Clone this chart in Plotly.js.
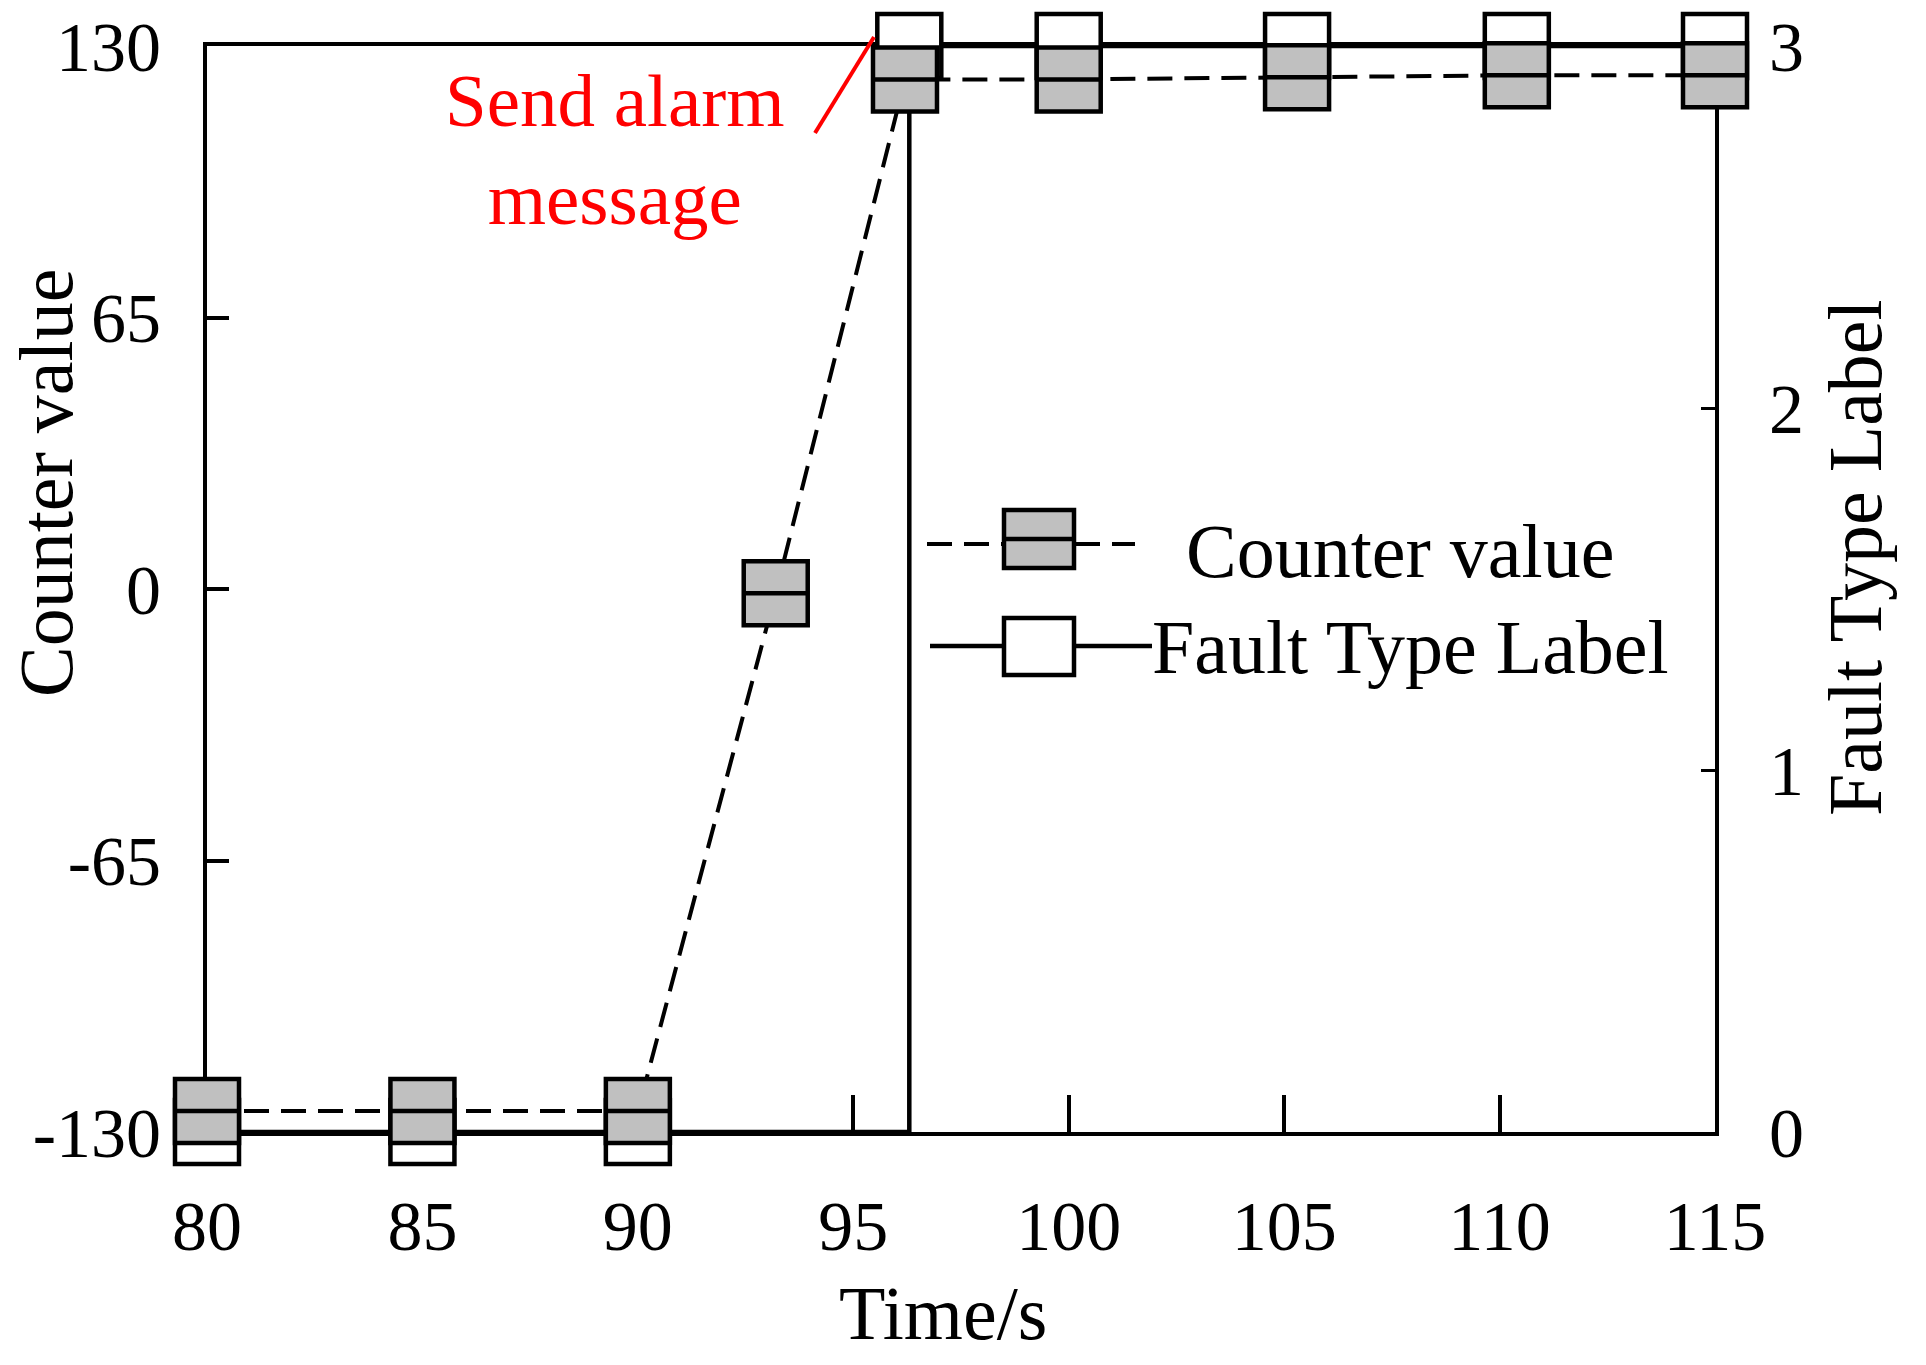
<!DOCTYPE html>
<html>
<head>
<meta charset="utf-8">
<script src="https://cdn.plot.ly/plotly-3.0.1.min.js"></script>
<style>html,body{margin:0;padding:0;background:#fff;}</style>
</head>
<body>
<div id="chart" style="width:1926px;height:1365px;"></div>
<script>
// ---- data ----
const counterTime  = [80, 85, 90, 93.2, 96.2, 100, 105.3, 110.4, 115];
const counterValue = [-125, -125, -125, -1, 122, 122, 122.5, 123, 123];
const faultTime    = [80, 85, 90, 96.3, 100, 105.3, 110.4, 115];
const faultLabel   = [0, 0, 0, 3, 3, 3, 3, 3];
const xTicks       = [80, 85, 90, 95, 100, 105, 110, 115];
const counterTicks = [-130, -65, 0, 65, 130];
const faultTicks   = [0, 1, 2, 3];
const seriesNames  = ['Counter value', 'Fault Type Label'];

const FONT = 'Liberation Serif, Times New Roman, serif';
const GRAY = '#c0c0c0';
const DASH = '25px,12px';

const traces = [
  { // fault type label (main y axis, drawn under)
    x: faultTime, y: faultLabel, yaxis: 'y', name: seriesNames[1],
    mode: 'lines+markers', cliponaxis: false,
    line: {color: '#000', width: 4.5, shape: 'hv'},
    marker: {symbol: 'square', size: 64, color: '#fff', line: {color: '#000', width: 4.5}},
    hoverinfo: 'x+y'
  },
  { // counter value (overlaying axis, drawn above)
    x: counterTime, y: counterValue, yaxis: 'y2', name: seriesNames[0],
    mode: 'lines+markers', cliponaxis: false,
    line: {color: '#000', width: 4, dash: DASH},
    marker: {symbol: 'square', size: 64, color: GRAY, line: {color: '#000', width: 4.5}},
    hoverinfo: 'x+y'
  },
  { // middle bar of the counter symbol
    x: counterTime, y: counterValue, yaxis: 'y2', name: seriesNames[0],
    mode: 'markers', cliponaxis: false, hoverinfo: 'skip',
    marker: {symbol: 'line-ew', size: 46, color: '#000', line: {color: '#000', width: 4.5}}
  }
];

// pixel -> paper helpers for decorations (plot area: x 207..1715, y 46..1132)
const L = 207, R = 1715, T = 46, B = 1132;
const px = v => (v - L) / (R - L);
const py = v => (B - v) / (B - T);

const shapes = [
  // "Send alarm message" pointer
  {type: 'line', xref: 'paper', yref: 'paper', x0: px(815), y0: py(133), x1: px(874), y1: py(37),
   line: {color: '#ff0000', width: 4}},
  // legend row 1 (Counter value)
  {type: 'line', xref: 'paper', yref: 'paper', x0: px(927), x1: px(1135), y0: py(544), y1: py(544),
   line: {color: '#000', width: 4, dash: DASH}},
  {type: 'rect', xref: 'paper', yref: 'paper', x0: px(1004), x1: px(1074), y0: py(510), y1: py(568),
   fillcolor: GRAY, line: {color: '#000', width: 4.5}},
  {type: 'line', xref: 'paper', yref: 'paper', x0: px(1004), x1: px(1074), y0: py(539), y1: py(539),
   line: {color: '#000', width: 4.5}},
  // legend row 2 (Fault Type Label)
  {type: 'line', xref: 'paper', yref: 'paper', x0: px(930), x1: px(1152), y0: py(646), y1: py(646),
   line: {color: '#000', width: 4.5}},
  {type: 'rect', xref: 'paper', yref: 'paper', x0: px(1004), x1: px(1074), y0: py(618), y1: py(675),
   fillcolor: '#fff', line: {color: '#000', width: 4.5}}
];

const annotations = [
  {xref: 'paper', yref: 'paper', x: px(614), y: py(150), text: 'Send alarm<br>message',
   showarrow: false, xanchor: 'center', yanchor: 'middle', align: 'center',
   font: {family: FONT, size: 75, color: '#ff0000'}},
  {xref: 'paper', yref: 'paper', x: px(1184), y: py(551), text: seriesNames[0],
   showarrow: false, xanchor: 'left', yanchor: 'middle',
   font: {family: FONT, size: 76, color: '#000'}},
  {xref: 'paper', yref: 'paper', x: px(1150), y: py(647), text: seriesNames[1],
   showarrow: false, xanchor: 'left', yanchor: 'middle',
   font: {family: FONT, size: 76, color: '#000'}},
  // axis titles
  {xref: 'paper', yref: 'paper', x: px(46), y: py(483), text: 'Counter value', textangle: -90,
   showarrow: false, xanchor: 'center', yanchor: 'middle',
   font: {family: FONT, size: 76, color: '#000'}},
  {xref: 'paper', yref: 'paper', x: px(1855), y: py(558), text: 'Fault Type Label', textangle: -90,
   showarrow: false, xanchor: 'center', yanchor: 'middle',
   font: {family: FONT, size: 76, color: '#000'}},
  {xref: 'paper', yref: 'paper', x: px(943), y: py(1313), text: 'Time/s',
   showarrow: false, xanchor: 'center', yanchor: 'middle',
   font: {family: FONT, size: 76, color: '#000'}}
];

const axisCommon = {
  showgrid: false, zeroline: false, showline: true, linecolor: '#000', linewidth: 4,
  ticks: 'inside', tickcolor: '#000', tickfont: {family: FONT, size: 70, color: '#000'},
  layer: 'below traces', fixedrange: true
};

const layout = {
  width: 1926, height: 1365,
  margin: {l: L, r: 1926 - R, t: T, b: 1365 - B, pad: 0},
  paper_bgcolor: '#fff', plot_bgcolor: '#fff',
  showlegend: false,
  font: {family: FONT, color: '#000'},
  xaxis: Object.assign({}, axisCommon, {
    range: [80, 115], tickmode: 'array', tickvals: xTicks, ticktext: xTicks.map(String),
    ticklen: 37, tickwidth: 4, mirror: true, ticklabelstandoff: 30
  }),
  yaxis: Object.assign({}, axisCommon, {
    side: 'right', range: [0, 3], tickmode: 'array', tickvals: faultTicks, ticktext: faultTicks.map(String),
    ticklen: 14, tickwidth: 3, ticklabelstandoff: 36
  }),
  yaxis2: Object.assign({}, axisCommon, {
    overlaying: 'y', side: 'left', range: [-130, 130], tickmode: 'array',
    tickvals: counterTicks, ticktext: counterTicks.map(String),
    ticklen: 22, tickwidth: 4, ticklabelstandoff: 28
  }),
  shapes: shapes,
  annotations: annotations
};

Plotly.newPlot('chart', traces, layout, {displayModeBar: false, staticPlot: true});
</script>
</body>
</html>
